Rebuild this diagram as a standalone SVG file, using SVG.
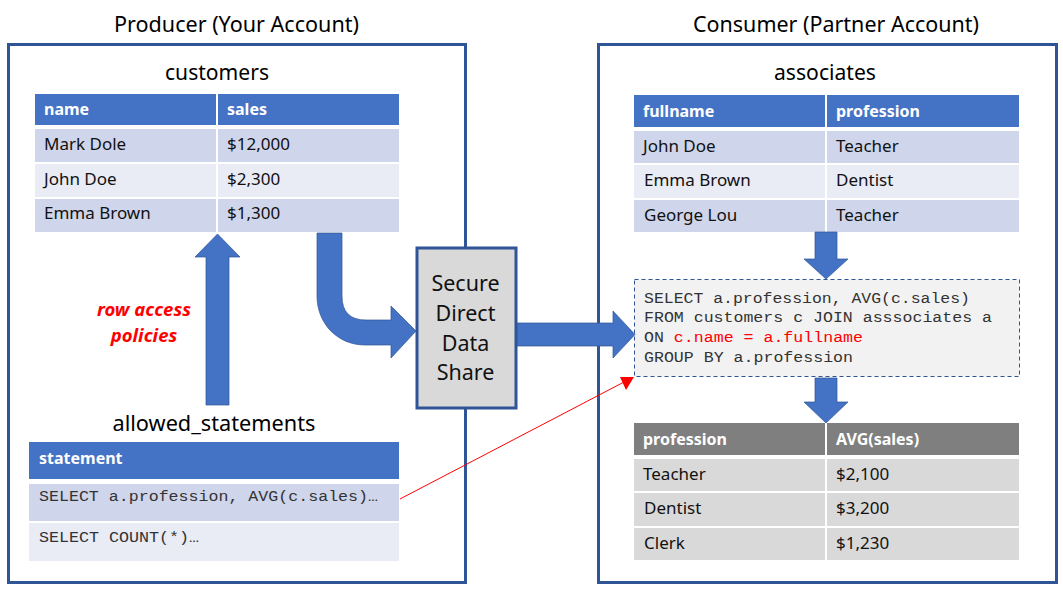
<svg xmlns="http://www.w3.org/2000/svg" width="1063" height="593" viewBox="0 0 1063 593">
<style>
text{font-family:"Noto Sans","Open Sans","Liberation Sans",sans-serif;fill:#000}
.title{font-size:21px;text-anchor:middle}
.cell{font-size:17px;fill:#111}
.head{font-size:16px;font-weight:700;fill:#fff}
.mono{font-family:"Liberation Mono","Courier New",monospace;font-size:14.5px;fill:#333}
.acc{fill:none;stroke:#2f5597;stroke-width:3}
.blue{fill:#4472c4}
.b1{fill:#cfd5ea}.b2{fill:#e9ebf5}.g0{fill:#7f7f7f}.g1{fill:#d9d9d9}
.arrow{fill:#4472c4;stroke:#2f5597;stroke-width:.7}
.share{font-size:21.5px;text-anchor:middle;fill:#111}
.policy{font-size:18.500px;font-weight:700;font-style:italic;fill:#ff0000;text-anchor:middle}
</style>
<g id="producer"><rect class="acc" x="8.5" y="44.5" width="457" height="538"/><text class="title" x="236.500" y="32" textLength="245" lengthAdjust="spacingAndGlyphs">Producer (Your Account)</text></g>
<g id="consumer"><rect class="acc" x="598.5" y="44.5" width="458" height="538"/><text class="title" x="836" y="32" textLength="286" lengthAdjust="spacingAndGlyphs">Consumer (Partner Account)</text></g>
<g id="customers">
<text class="title" x="217" y="80" textLength="104" lengthAdjust="spacingAndGlyphs">customers</text>
<rect class="blue" x="35" y="94" width="181" height="31"/><rect class="blue" x="218" y="94" width="181" height="31"/>
<rect class="b1" x="35" y="129" width="181" height="33"/><rect class="b1" x="218" y="129" width="181" height="33"/>
<rect class="b2" x="35" y="164" width="181" height="33"/><rect class="b2" x="218" y="164" width="181" height="33"/>
<rect class="b1" x="35" y="199" width="181" height="33"/><rect class="b1" x="218" y="199" width="181" height="33"/>
<text class="head" x="44" y="115">name</text><text class="head" x="227" y="115">sales</text>
<text class="cell" x="44" y="150">Mark Dole</text><text class="cell" x="227" y="150">$12,000</text>
<text class="cell" x="44" y="185">John Doe</text><text class="cell" x="227" y="185">$2,300</text>
<text class="cell" x="44" y="219">Emma Brown</text><text class="cell" x="227" y="219">$1,300</text>
</g>
<g id="allowed_statements">
<text class="title" x="214" y="431" textLength="203" lengthAdjust="spacingAndGlyphs">allowed_statements</text>
<rect class="blue" x="29" y="442" width="370" height="37"/>
<rect class="b1" x="29" y="484" width="370" height="37"/>
<rect class="b2" x="29" y="523" width="370" height="38"/>
<text class="head" x="39" y="464">statement</text>
<text class="mono" x="39" y="501" textLength="339" lengthAdjust="spacingAndGlyphs">SELECT a.profession, AVG(c.sales)…</text>
<text class="mono" x="39" y="542" textLength="160" lengthAdjust="spacingAndGlyphs">SELECT COUNT(*)…</text>
</g>
<g id="associates">
<text class="title" x="825" y="80" textLength="102" lengthAdjust="spacingAndGlyphs">associates</text>
<rect class="blue" x="634" y="95" width="191" height="32"/><rect class="blue" x="827" y="95" width="192" height="32"/>
<rect class="b1" x="634" y="131" width="191" height="32"/><rect class="b1" x="827" y="131" width="192" height="32"/>
<rect class="b2" x="634" y="165" width="191" height="33"/><rect class="b2" x="827" y="165" width="192" height="33"/>
<rect class="b1" x="634" y="200" width="191" height="32"/><rect class="b1" x="827" y="200" width="192" height="32"/>
<text class="head" x="643" y="117">fullname</text><text class="head" x="836" y="117">profession</text>
<text class="cell" x="643" y="152">John Doe</text><text class="cell" x="836" y="152">Teacher</text>
<text class="cell" x="644" y="186">Emma Brown</text><text class="cell" x="836" y="186">Dentist</text>
<text class="cell" x="644" y="221">George Lou</text><text class="cell" x="836" y="221">Teacher</text>
</g>
<g id="query">
<rect x="634.5" y="279.5" width="385" height="97" fill="#f2f2f2" stroke="#2f5597" stroke-dasharray="4 3"/>
<text class="mono" x="644" y="303" textLength="326" lengthAdjust="spacingAndGlyphs">SELECT a.profession, AVG(c.sales)</text>
<text class="mono" x="644" y="322" textLength="348" lengthAdjust="spacingAndGlyphs">FROM customers c JOIN asssociates a</text>
<text class="mono" x="644" y="342" textLength="219" lengthAdjust="spacingAndGlyphs">ON <tspan fill="#ff0000">c.name = a.fullname</tspan></text>
<text class="mono" x="644" y="362" textLength="209" lengthAdjust="spacingAndGlyphs">GROUP BY a.profession</text>
</g>
<g id="result">
<rect class="g0" x="634" y="423" width="191" height="32"/><rect class="g0" x="827" y="423" width="192" height="32"/>
<rect class="g1" x="634" y="459" width="191" height="32"/><rect class="g1" x="827" y="459" width="192" height="32"/>
<rect class="g1" x="634" y="493" width="191" height="33"/><rect class="g1" x="827" y="493" width="192" height="33"/>
<rect class="g1" x="634" y="528" width="191" height="32"/><rect class="g1" x="827" y="528" width="192" height="32"/>
<text class="head" x="643" y="445">profession</text><text class="head" x="836" y="445">AVG(sales)</text>
<text class="cell" x="643" y="480">Teacher</text><text class="cell" x="836" y="480">$2,100</text>
<text class="cell" x="644" y="514">Dentist</text><text class="cell" x="836" y="514">$3,200</text>
<text class="cell" x="644" y="549">Clerk</text><text class="cell" x="836" y="549">$1,230</text>
</g>
<g id="connectors">
<path class="arrow" d="M206 405V257H195L217.500 234L240 257H229V405Z"/>
<path class="arrow" d="M317 233H342V296Q342 320 366 320H391V306L416 331L391 358V345H365C337 345 317 323 317 296Z"/>
<path class="arrow" d="M516 323H613V311L635 334.500L613 358V346H516Z"/>
<path class="arrow" d="M815 232H837V259H848L826 279L804 259H815Z"/>
<path class="arrow" d="M815 378H837V402H848L826 423L804 402H815Z"/>
<path d="M400 499L624 382" fill="none" stroke="#ff0000"/>
<path d="M634 377L620 377L626 390Z" fill="#ff0000"/>
</g>
<g id="policies"><text class="policy" x="144" y="316">row access</text><text class="policy" x="144" y="342">policies</text></g>
<g id="secure-share"><rect x="417" y="248" width="99" height="160" fill="#d9d9d9" stroke="#2f5597" stroke-width="3"/>
<text class="share" x="465.500" y="291">Secure</text><text class="share" x="465.500" y="321">Direct</text><text class="share" x="465.500" y="351">Data</text><text class="share" x="465.500" y="380">Share</text></g>
</svg>
